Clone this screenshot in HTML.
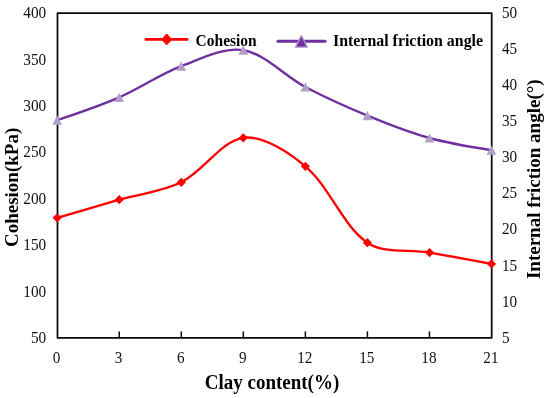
<!DOCTYPE html>
<html><head><meta charset="utf-8"><title>Chart</title>
<style>
html,body{margin:0;padding:0;background:#fff;}
body{width:550px;height:398px;overflow:hidden;}
svg{display:block;}
text{font-family:"Liberation Serif","Times New Roman",serif;fill:#111;}
.t{font-size:16px;}
.b{font-weight:bold;font-size:16px;fill:#000;}
.a{font-weight:bold;font-size:19px;fill:#000;}
</style></head><body>
<svg width="550" height="398" viewBox="0 0 550 398">
<rect width="550" height="398" fill="#fff"/>
<rect x="57.5" y="13.0" width="434.2" height="324.9" fill="none" stroke="#0a0a0a" stroke-width="1.75" stroke-linejoin="round"/>
<line x1="119.24" y1="337.9" x2="119.24" y2="331.4" stroke="#0a0a0a" stroke-width="1.5"/>
<line x1="181.29" y1="337.9" x2="181.29" y2="331.4" stroke="#0a0a0a" stroke-width="1.5"/>
<line x1="243.33" y1="337.9" x2="243.33" y2="331.4" stroke="#0a0a0a" stroke-width="1.5"/>
<line x1="305.37" y1="337.9" x2="305.37" y2="331.4" stroke="#0a0a0a" stroke-width="1.5"/>
<line x1="367.41" y1="337.9" x2="367.41" y2="331.4" stroke="#0a0a0a" stroke-width="1.5"/>
<line x1="429.46" y1="337.9" x2="429.46" y2="331.4" stroke="#0a0a0a" stroke-width="1.5"/>
<text class="t" transform="translate(46.2,18.2) scale(0.955,1)" text-anchor="end">400</text>
<text class="t" transform="translate(46.2,64.6) scale(0.955,1)" text-anchor="end">350</text>
<text class="t" transform="translate(46.2,111.0) scale(0.955,1)" text-anchor="end">300</text>
<text class="t" transform="translate(46.2,157.4) scale(0.955,1)" text-anchor="end">250</text>
<text class="t" transform="translate(46.2,203.9) scale(0.955,1)" text-anchor="end">200</text>
<text class="t" transform="translate(46.2,250.3) scale(0.955,1)" text-anchor="end">150</text>
<text class="t" transform="translate(46.2,296.7) scale(0.955,1)" text-anchor="end">100</text>
<text class="t" transform="translate(46.2,343.1) scale(0.955,1)" text-anchor="end">50</text>
<text class="t" transform="translate(502,17.8) scale(0.95,1)">50</text>
<text class="t" transform="translate(502,53.9) scale(0.95,1)">45</text>
<text class="t" transform="translate(502,90.0) scale(0.95,1)">40</text>
<text class="t" transform="translate(502,126.1) scale(0.95,1)">35</text>
<text class="t" transform="translate(502,162.2) scale(0.95,1)">30</text>
<text class="t" transform="translate(502,198.3) scale(0.95,1)">25</text>
<text class="t" transform="translate(502,234.4) scale(0.95,1)">20</text>
<text class="t" transform="translate(502,270.5) scale(0.95,1)">15</text>
<text class="t" transform="translate(502,306.6) scale(0.95,1)">10</text>
<text class="t" transform="translate(502,342.7) scale(0.95,1)">5</text>
<text class="t" transform="translate(56.6,362.6) scale(0.95,1)" text-anchor="middle">0</text>
<text class="t" transform="translate(118.6,362.6) scale(0.95,1)" text-anchor="middle">3</text>
<text class="t" transform="translate(180.7,362.6) scale(0.95,1)" text-anchor="middle">6</text>
<text class="t" transform="translate(242.7,362.6) scale(0.95,1)" text-anchor="middle">9</text>
<text class="t" transform="translate(304.8,362.6) scale(0.95,1)" text-anchor="middle">12</text>
<text class="t" transform="translate(366.8,362.6) scale(0.95,1)" text-anchor="middle">15</text>
<text class="t" transform="translate(428.9,362.6) scale(0.95,1)" text-anchor="middle">18</text>
<text class="t" transform="translate(490.9,362.6) scale(0.95,1)" text-anchor="middle">21</text>
<path d="M57.20 120.20 C57.20 120.20 99.07 106.18 119.24 97.40 C140.43 88.18 159.77 74.38 181.29 66.20 C201.13 58.65 223.87 46.94 243.33 50.20 C265.23 53.87 284.13 75.80 305.37 87.00 C325.49 97.60 346.37 106.95 367.41 115.60 C387.73 123.95 408.34 132.11 429.46 138.00 C449.70 143.64 491.50 150.20 491.50 150.20" fill="none" stroke="#7030a0" stroke-width="2.4" stroke-linecap="round"/>
<path d="M57.2 115.6 l4.9 9.2 h-9.8 z" fill="#b0a0c8"/>
<path d="M119.2 92.8 l4.9 9.2 h-9.8 z" fill="#b0a0c8"/>
<path d="M181.3 61.6 l4.9 9.2 h-9.8 z" fill="#b0a0c8"/>
<path d="M243.3 45.6 l4.9 9.2 h-9.8 z" fill="#b0a0c8"/>
<path d="M305.4 82.4 l4.9 9.2 h-9.8 z" fill="#b0a0c8"/>
<path d="M367.4 111.0 l4.9 9.2 h-9.8 z" fill="#b0a0c8"/>
<path d="M429.5 133.4 l4.9 9.2 h-9.8 z" fill="#b0a0c8"/>
<path d="M491.5 145.6 l4.9 9.2 h-9.8 z" fill="#b0a0c8"/>
<path d="M57.20 217.80 C57.20 217.80 98.53 205.63 119.24 199.70 C139.89 193.79 162.36 191.74 181.29 182.30 C203.72 171.11 221.49 140.62 243.33 137.80 C262.85 135.28 288.43 151.98 305.37 166.30 C329.79 186.94 342.17 225.14 367.41 242.70 C383.53 253.91 408.81 249.07 429.46 252.60 C450.18 256.14 491.50 263.90 491.50 263.90" fill="none" stroke="#ff0000" stroke-width="2.35" stroke-linecap="round"/>
<path d="M57.2 213.2 l4.6 4.6 l-4.6 4.6 l-4.6 -4.6 z" fill="#ff0000"/>
<path d="M119.2 195.1 l4.6 4.6 l-4.6 4.6 l-4.6 -4.6 z" fill="#ff0000"/>
<path d="M181.3 177.7 l4.6 4.6 l-4.6 4.6 l-4.6 -4.6 z" fill="#ff0000"/>
<path d="M243.3 133.2 l4.6 4.6 l-4.6 4.6 l-4.6 -4.6 z" fill="#ff0000"/>
<path d="M305.4 161.7 l4.6 4.6 l-4.6 4.6 l-4.6 -4.6 z" fill="#ff0000"/>
<path d="M367.4 238.1 l4.6 4.6 l-4.6 4.6 l-4.6 -4.6 z" fill="#ff0000"/>
<path d="M429.5 248.0 l4.6 4.6 l-4.6 4.6 l-4.6 -4.6 z" fill="#ff0000"/>
<path d="M491.5 259.3 l4.6 4.6 l-4.6 4.6 l-4.6 -4.6 z" fill="#ff0000"/>
<line x1="145.8" y1="39.4" x2="187.2" y2="39.4" stroke="#ff0000" stroke-width="2.6" stroke-linecap="round"/>
<path d="M166.7 33.6 l5.6 5.8 l-5.6 5.8 l-5.6 -5.8 z" fill="#ff0000"/>
<text class="b" style="font-size:17.5px" transform="translate(195.6,46.1) scale(0.886,1)">Cohesion</text>
<line x1="278" y1="41.3" x2="325" y2="41.3" stroke="#7030a0" stroke-width="3.1" stroke-linecap="round"/>
<path d="M301.4 35.4 l6 11.8 h-12 z" fill="#7030a0" stroke="#b0a0c8" stroke-width="1.3" stroke-linejoin="round"/>
<text class="b" style="font-size:17.1px" transform="translate(333,46.3) scale(0.93,1)">Internal friction angle</text>
<text class="a" style="font-size:20.2px" transform="translate(272,388.6) scale(0.94,1)" text-anchor="middle">Clay content(%)</text>
<text class="a" transform="translate(17.5,187.4) rotate(-90)" text-anchor="middle">Cohesion(kPa)</text>
<text class="a" transform="translate(540.2,179.2) rotate(-90)" text-anchor="middle">Internal friction angle(°)</text>
</svg></body></html>
